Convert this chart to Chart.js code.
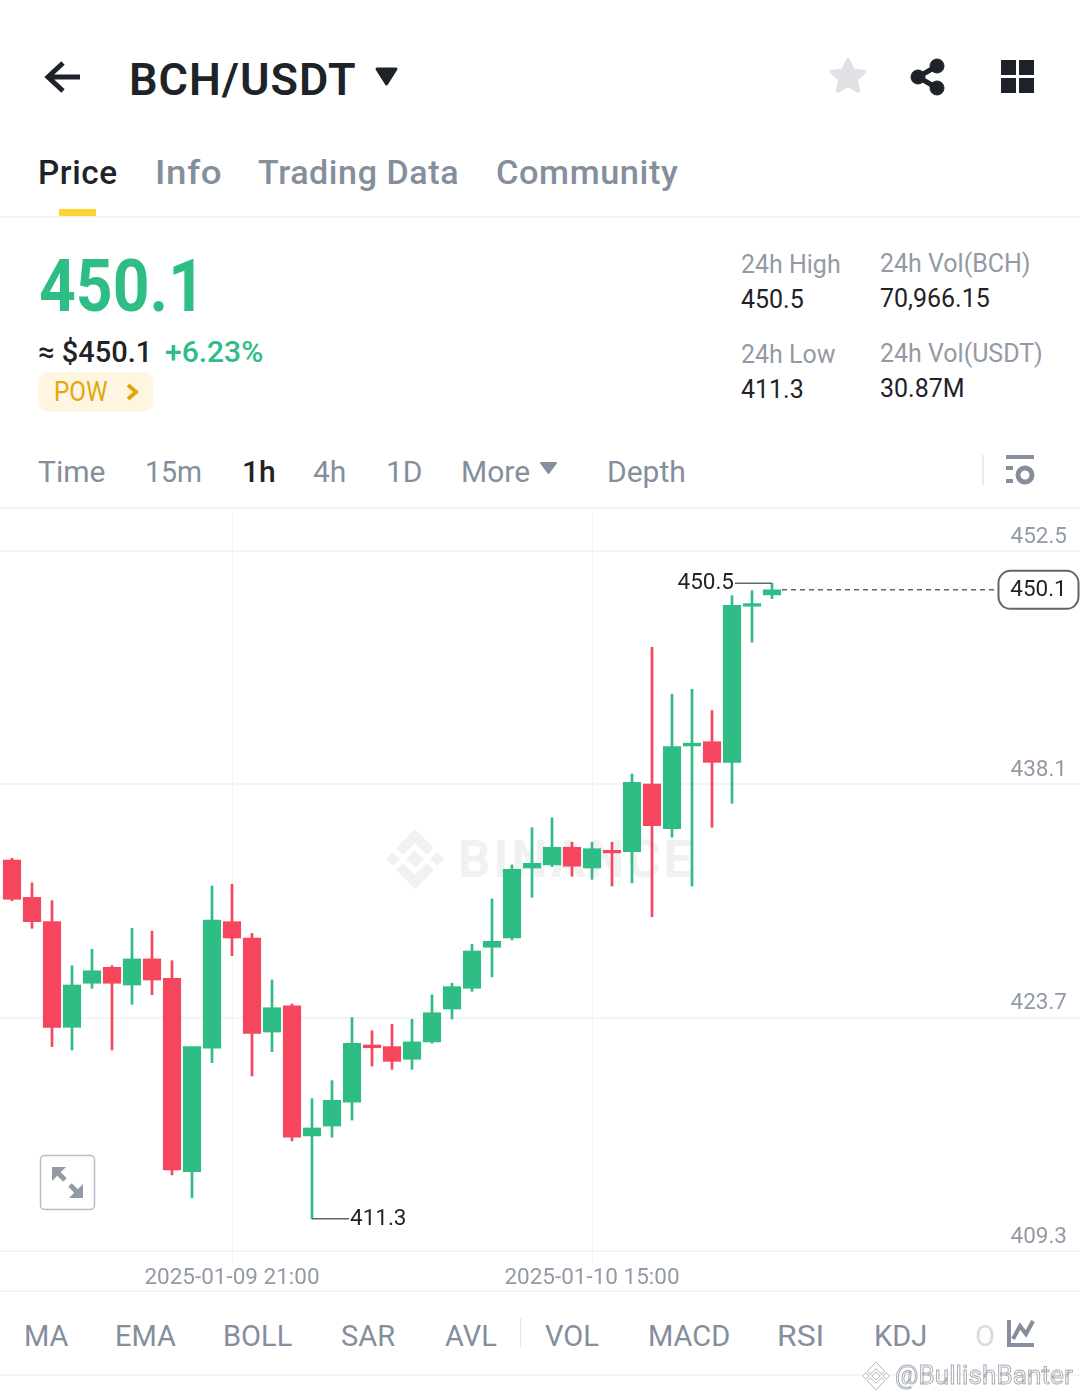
<!DOCTYPE html>
<html>
<head>
<meta charset="utf-8">
<title>BCH/USDT</title>
<script src="https://cdn.jsdelivr.net/npm/chart.js@4"></script>
<style>
  html, body { margin: 0; padding: 0; background: #fff; width: 1080px; height: 1397px; overflow: hidden; font-family: Roboto, sans-serif; }
  .t { position: absolute; white-space: nowrap; line-height: 1; transform: translateY(-50%) scaleX(var(--sx, 1)); transform-origin: left center; color: #848e9c; }
  .dark { color: #1e2329; }
  .green { color: #2ebd85; }
  .tab { font-size: 34px; font-weight: 500; letter-spacing: .6px; }
  .stat { font-size: 26px; --sx: .96; }
  .range { font-size: 30px; }
  .ind { font-size: 29px; }
  .line { position: absolute; left: 0; width: 1080px; height: 2px; background: #f3f4f5; }
  #chartBox { position: absolute; left: 0; top: 508px; width: 1080px; height: 783px; }
  #pill { position: absolute; left: 38px; top: 372px; width: 115px; height: 40px; border-radius: 10px; background: #fef6e0; }
  svg { position: absolute; left: 0; top: 0; }
</style>
</head>
<body>
<!-- filigrana dietro il grafico -->
<svg width="1080" height="1397">
  <defs>
    <g id="logo">
      <polygon points="415,850 424,859 415,868 406,859"/>
      <polygon points="393,852 400,859 393,866 386,859"/>
      <polygon points="437,852 444,859 437,866 430,859"/>
      <polygon points="415,829 434,848 427,855 415,843 403,855 396,848"/>
      <polygon points="415,889 434,870 427,863 415,875 403,863 396,870"/>
    </g>
  </defs>
  <use href="#logo" fill="#eff1f3"/>
</svg>
<div class="t" style="left:458px;top:859px;font-size:51px;font-weight:700;letter-spacing:3px;color:#eff1f3">BINANCE</div>

<div class="t dark" style="left:129px;top:79px;font-size:45px;font-weight:600;letter-spacing:1px">BCH/USDT</div>
<div class="t dark tab" style="left:38px;top:172px;--sx:.98">Price</div>
<div class="t tab" style="left:155px;top:172px;--sx:1.08">Info</div>
<div class="t tab" style="left:258px;top:172px">Trading Data</div>
<div class="t tab" style="left:496px;top:172px;--sx:1.01">Community</div>
<div style="position:absolute;left:59px;top:209px;width:37px;height:7px;background:#fcd535"></div>
<div class="line" style="top:216px"></div>

<div class="t green" style="left:39px;top:286px;font-size:73px;font-weight:700;--sx:.88">450.1</div>
<div class="t dark" style="left:38px;top:352px;font-size:29px;font-weight:500">≈ $450.1</div>
<div class="t green" style="left:165px;top:352px;font-size:30px;font-weight:500">+6.23%</div>
<div id="pill"></div>
<div class="t" style="left:54px;top:392px;font-size:27px;color:#e2a70c;--sx:.9">POW</div>

<div class="t stat" style="left:741px;top:264px;color:#929aa5">24h High</div>
<div class="t stat dark" style="left:741px;top:299px">450.5</div>
<div class="t stat" style="left:880px;top:263px;color:#929aa5">24h Vol(BCH)</div>
<div class="t stat dark" style="left:880px;top:298px">70,966.15</div>
<div class="t stat" style="left:741px;top:354px;color:#929aa5">24h Low</div>
<div class="t stat dark" style="left:741px;top:389px">411.3</div>
<div class="t stat" style="left:880px;top:353px;color:#929aa5">24h Vol(USDT)</div>
<div class="t stat dark" style="left:880px;top:388px">30.87M</div>

<div class="t range" style="left:38px;top:472px">Time</div>
<div class="t range" style="left:145px;top:472px;--sx:.95">15m</div>
<div class="t range dark" style="left:242px;top:472px;font-weight:500">1h</div>
<div class="t range" style="left:313px;top:472px">4h</div>
<div class="t range" style="left:386px;top:472px">1D</div>
<div class="t range" style="left:461px;top:472px">More</div>
<div class="t range" style="left:607px;top:472px">Depth</div>
<div class="line" style="top:507px"></div>
<div class="line" style="top:1290px"></div>

<div class="t ind" style="left:24px;top:1336px">MA</div>
<div class="t ind" style="left:115px;top:1336px">EMA</div>
<div class="t ind" style="left:223px;top:1336px">BOLL</div>
<div class="t ind" style="left:341px;top:1336px">SAR</div>
<div class="t ind" style="left:445px;top:1336px">AVL</div>
<div class="t ind" style="left:545px;top:1336px">VOL</div>
<div class="t ind" style="left:648px;top:1336px">MACD</div>
<div class="t ind" style="left:777px;top:1336px;--sx:1.1">RSI</div>
<div class="t ind" style="left:874px;top:1336px">KDJ</div>
<div class="t ind" style="left:975px;top:1336px;color:#d8dbdf">O</div>
<div class="line" style="top:1374px"></div>

<div id="chartBox"><canvas id="klineChart"></canvas></div>

<!-- icone -->
<svg width="1080" height="1397" style="pointer-events:none">
  <path d="M80 77H49M63 63L48 77L63 91" fill="none" stroke="#1e2329" stroke-width="5"/>
  <path d="M377 69H396L386.500 84Z" fill="#1e2329" stroke="#1e2329" stroke-width="3" stroke-linejoin="round"/>
  <polygon points="848,60 852.700,70.500 864.200,71.700 855.600,79.500 858,90.800 848,85 838,90.800 840.400,79.500 831.800,71.700 843.300,70.500" fill="#dfe1e5" stroke="#dfe1e5" stroke-width="4" stroke-linejoin="round"/>
  <g fill="#1e2329" stroke="#1e2329">
    <circle cx="937" cy="66" r="7"/><circle cx="918" cy="77" r="7"/><circle cx="937" cy="88" r="7"/>
    <path d="M937 66L918 77L937 88" fill="none" stroke-width="5"/>
  </g>
  <g fill="#1e2329">
    <rect x="1001" y="60" width="15" height="15"/><rect x="1019" y="60" width="15" height="15"/>
    <rect x="1001" y="78" width="15" height="15"/><rect x="1019" y="78" width="15" height="15"/>
  </g>
  <path d="M541 463H556L548.500 473Z" fill="#848e9c" stroke="#848e9c" stroke-width="2" stroke-linejoin="round"/>
  <path d="M128 385L136 392L128 399" fill="none" stroke="#e2a70c" stroke-width="4"/>
  <rect x="982" y="455" width="2" height="30" fill="#eaecef"/>
  <g fill="#848e9c">
    <rect x="1006" y="455" width="28" height="4"/><rect x="1006" y="466" width="7" height="4"/><rect x="1006" y="479" width="7" height="4"/>
  </g>
  <circle cx="1025" cy="475" r="7" fill="none" stroke="#848e9c" stroke-width="5"/>
  <rect x="520" y="1318" width="1" height="30" fill="#e6e8ea"/>
  <path d="M1009 1320V1345H1034M1013 1339L1020 1326L1026 1334L1033 1321" fill="none" stroke="#848e9c" stroke-width="4"/>
  <rect x="40.500" y="1155.500" width="54" height="54" rx="4" fill="#fff" stroke="#b7bdc6" stroke-width="1.500"/>
  <g fill="#929aa5">
    <polygon points="52,1167 66,1167 52,1181"/><polygon points="83,1198 69,1198 83,1184"/>
  </g>
  <path d="M58 1173L65 1180M70 1185L77 1192" stroke="#929aa5" stroke-width="5"/>
  <use href="#logo" fill="#fff" stroke="#a8adb5" stroke-width="2" transform="translate(876 1376) scale(.46) translate(-415 -859)"/>
  <text x="895" y="1384" font-family="Roboto" font-size="26" fill="#fff" stroke="#a8adb5" stroke-width="1" letter-spacing=".1">@BullishBanter</text>
</svg>

<script>
// Candele orarie, una per ogni ora a partire dal 2025-01-09 10:00.
const opens = [433.43, 431.13, 429.63, 423.11, 425.83, 426.81, 425.72, 427.33, 426.14, 414.2, 421.82, 429.63, 428.62, 422.82, 424.43, 416.41, 417.02, 418.5, 422.02, 421.92, 421.14, 422.21, 424.24, 425.52, 428.05, 428.62, 432.94, 433.13, 434.22, 432.94, 434.03, 433.95, 438.12, 435.37, 440.47, 440.73, 439.46, 449.09, 449.79];
const closes = [431.01, 429.63, 423.11, 425.72, 426.6, 425.83, 427.33, 426.03, 414.31, 421.92, 429.73, 428.62, 422.74, 424.32, 416.33, 416.9, 418.61, 422.13, 421.85, 421.01, 422.21, 424.01, 425.62, 427.82, 428.42, 432.86, 433.23, 434.22, 433.05, 434.13, 433.87, 438.23, 435.55, 440.43, 440.64, 439.46, 449.15, 449.25, 450.1];
const highs = [433.54, 432.03, 430.92, 426.91, 427.92, 426.91, 429.22, 429.04, 427.22, 421.92, 431.83, 431.94, 428.91, 426.03, 424.55, 418.71, 419.82, 423.71, 422.9, 423.3, 423.61, 425.11, 425.83, 428.23, 431.03, 433.13, 435.43, 436.04, 434.53, 434.53, 434.53, 438.74, 446.56, 443.66, 443.97, 442.65, 449.74, 450.05, 450.5];
const lows = [430.92, 429.22, 421.92, 421.71, 425.52, 421.71, 424.53, 425.12, 414.0, 412.6, 420.93, 427.53, 420.11, 421.61, 416.1, 411.3, 416.33, 417.39, 420.72, 420.52, 420.52, 422.13, 423.62, 425.33, 426.22, 428.5, 431.13, 433.02, 432.43, 432.24, 431.83, 432.03, 429.94, 434.84, 431.83, 435.45, 436.93, 446.87, 449.56];

const priceTicks = [452.5, 438.1, 423.7, 409.3];
const timeTickIndexes = [11, 29];
const timeTickLabels = ["2025-01-09 21:00", "2025-01-10 15:00"];

const lastPrice = 450.1;
const highMark = 450.5;
const lowMark = 411.3;
const highMarkIndex = 38;
const lowMarkIndex = 15;

const UP = "#2ebd85";
const DOWN = "#f6465d";
const GRID = "#f3f4f5";

const candleColors = closes.map((c, i) => (c >= opens[i] ? UP : DOWN));

// Chart.js riserva spazio per le etichette: qui il grafico occupa tutta la larghezza.
function noScalePadding(scale) {
  scale.paddingLeft = 0;
  scale.paddingRight = 0;
  scale.paddingTop = 0;
  scale.paddingBottom = 0;
}

// Linee guida e etichette di massimo, minimo e ultimo prezzo, posizionate tramite le scale.
const priceMarkers = {
  id: "priceMarkers",
  afterDatasetsDraw(chart) {
    const { ctx, scales } = chart;
    const x = scales.x;
    const y = scales.y;
    ctx.save();
    ctx.font = "22.5px Roboto";
    ctx.textBaseline = "middle";

    const lastY = y.getPixelForValue(lastPrice);
    const lastX = x.getPixelForValue(highMarkIndex) + 10;
    ctx.strokeStyle = "#5e6673";
    ctx.lineWidth = 1.5;
    ctx.setLineDash([5, 4]);
    ctx.beginPath();
    ctx.moveTo(lastX, lastY);
    ctx.lineTo(998, lastY);
    ctx.stroke();
    ctx.setLineDash([]);

    ctx.fillStyle = "#fff";
    ctx.lineWidth = 2;
    ctx.beginPath();
    ctx.roundRect(998.5, lastY - 19, 80, 38, 12);
    ctx.fill();
    ctx.stroke();
    ctx.lineWidth = 1.5;
    ctx.fillStyle = "#1e2329";
    ctx.textAlign = "center";
    ctx.fillText(lastPrice.toFixed(1), 1038.5, lastY + 1);

    const highY = y.getPixelForValue(highMark);
    const highX = x.getPixelForValue(highMarkIndex);
    ctx.beginPath();
    ctx.moveTo(highX, highY);
    ctx.lineTo(highX - 37, highY);
    ctx.stroke();
    ctx.textAlign = "right";
    ctx.fillText(highMark.toFixed(1), highX - 38, highY);

    const lowY = y.getPixelForValue(lowMark);
    const lowX = x.getPixelForValue(lowMarkIndex);
    ctx.beginPath();
    ctx.moveTo(lowX, lowY);
    ctx.lineTo(lowX + 37, lowY);
    ctx.stroke();
    ctx.textAlign = "left";
    ctx.fillText(lowMark.toFixed(1), lowX + 38, lowY + 1);
    ctx.restore();
  },
};

function createKlineChart() {
  const ctx = document.getElementById("klineChart").getContext("2d");

  new Chart(ctx, {
    type: "bar",
    data: {
      datasets: [
        {
          label: "Corpo",
          data: opens.map((o, i) => ({ x: i, y: [o, closes[i]] })),
          backgroundColor: candleColors,
          barThickness: 17.5,
          grouped: false,
          order: 1,
        },
        {
          label: "Ombra",
          data: lows.map((l, i) => ({ x: i, y: [l, highs[i]] })),
          backgroundColor: candleColors,
          barThickness: 2,
          grouped: false,
          order: 2,
        },
      ],
    },
    options: {
      responsive: true,
      maintainAspectRatio: false,
      animation: false,
      events: [],
      layout: { padding: 0 },
      plugins: {
        legend: { display: false },
        tooltip: { enabled: false },
      },
      scales: {
        x: {
          type: "linear",
          offset: false,
          min: -0.6,
          max: 53.4,
          afterBuildTicks: (scale) => {
            scale.ticks = timeTickIndexes.map((value) => ({ value }));
          },
          afterFit: (scale) => {
            scale.height = 28;
            noScalePadding(scale);
          },
          border: { display: false },
          grid: { offset: false, color: GRID, lineWidth: 1, drawTicks: false },
          ticks: {
            autoSkip: false,
            maxRotation: 0,
            padding: 2,
            color: "#929aa5",
            font: { family: "Roboto", size: 22.5 },
            callback: (value) => timeTickLabels[timeTickIndexes.indexOf(value)],
          },
        },
        y: {
          position: "right",
          min: 408.57,
          max: 455.15,
          afterBuildTicks: (scale) => {
            scale.ticks = priceTicks.map((value) => ({ value }));
          },
          afterFit: (scale) => {
            scale.width = 0;
            noScalePadding(scale);
          },
          border: { display: false },
          grid: { color: GRID, lineWidth: 2, drawTicks: false },
          ticks: {
            mirror: true,
            padding: -13,
            labelOffset: -14,
            color: "#929aa5",
            font: { family: "Roboto", size: 22.5 },
            callback: (value) => value.toFixed(1),
          },
        },
      },
    },
    plugins: [priceMarkers],
  });
}

createKlineChart();
</script>
</body>
</html>
